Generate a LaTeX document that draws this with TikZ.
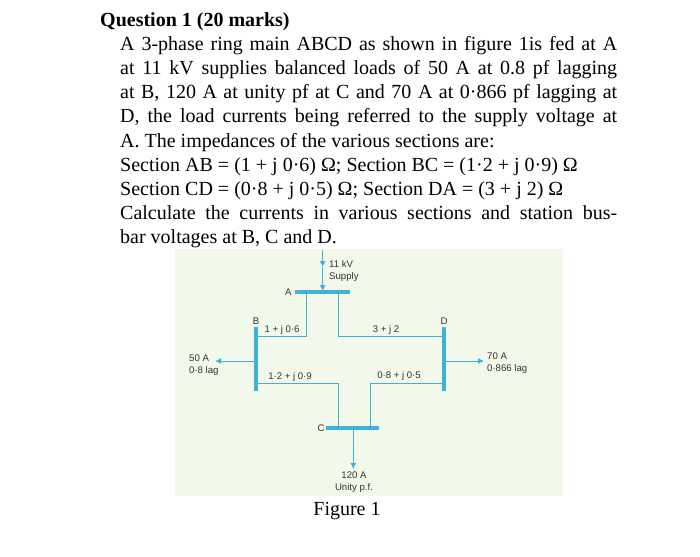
\documentclass[tikz,border=0pt]{standalone}
\usepackage{fontspec}
\setmainfont{Liberation Serif}
\newfontfamily\labelfont{Liberation Sans}
\usepackage{xcolor}
\usetikzlibrary{arrows.meta,positioning}
\definecolor{panelgreen}{HTML}{F2F8EA}
\definecolor{wireblue}{HTML}{3FB2DC}
\definecolor{labelgray}{HTML}{333333}
\tikzstyle{hbus}=[rectangle, fill=wireblue, inner sep=0pt, minimum height=3.2pt]
\tikzstyle{vbus}=[rectangle, fill=wireblue, inner sep=0pt, minimum width=3.2pt]
\tikzstyle{wire}=[draw=wireblue, line width=0.9pt]
\tikzstyle{feed}=[draw=wireblue, line width=0.9pt, -{Latex[length=6pt,width=6pt]}]
\tikzstyle{lbl}=[inner sep=0pt, text=labelgray, font=\labelfont\fontsize{9.6}{12}\selectfont, align=left]
\tikzstyle{prose}=[inner sep=0pt, font=\fontsize{20}{24.2}\selectfont]

\begin{document}
\begin{tikzpicture}[x=1pt, y=-1pt]
	\useasboundingbox (0,0) rectangle (700,556);
	\fill[white] (0,0) rectangle (700,556);

	\node[prose, anchor=base west] (title) at (100,27) {\bfseries Question 1 (20 marks)};
	\node[prose, anchor=north west, text width=497pt, align=justify] (question) at (120,36) {%
		A 3-phase ring main ABCD as shown in figure 1is fed at A\linebreak
		at 11 kV supplies balanced loads of 50 A at 0.8 pf lagging\linebreak
		at B, 120 A at unity pf at C and 70 A at 0·866 pf lagging at\linebreak
		D, the load currents being referred to the supply voltage at\linebreak
		A. The impedances of the various sections are:\newline
		Section AB = (1 + j 0·6) Ω; Section BC = (1·2 + j 0·9) Ω\newline
		Section CD = (0·8 + j 0·5) Ω; Section DA = (3 + j 2) Ω\newline
		Calculate the currents in various sections and station bus-\linebreak
		bar voltages at B, C and D.};

	\fill[panelgreen] (175,249) rectangle (563,496);

	% bus bars
	\node[hbus, minimum width=55pt] (busA) at (322.5,292) {};
	\node[vbus, minimum height=64pt] (busB) at (256,359) {};
	\node[vbus, minimum height=64pt] (busD) at (444,359) {};
	\node[hbus, minimum width=53pt] (busC) at (352.5,428) {};

	\node[lbl, left=3pt of busA] (nameA) {A};
	\node[lbl, above=2pt of busB] (nameB) {B};
	\node[lbl, above=2pt of busD] (nameD) {D};
	\node[lbl, left=1pt of busC] (nameC) {C};

	% tappings on the bars
	\coordinate (a1) at (306.7,292);
	\coordinate (a2) at (338,292);
	\coordinate (b1) at (256,336);
	\coordinate (b2) at (256,383);
	\coordinate (c1) at (338,428);
	\coordinate (c2) at (370,428);
	\coordinate (d1) at (444,336);
	\coordinate (d2) at (444,383);

	\draw[wire] (a1) |- (b1);
	\draw[wire] (a2) |- (d1);
	\draw[wire] (c1) |- (b2);
	\draw[wire] (c2) |- (d2);

	\node[lbl] (zab) at (282,330) {1 + j 0·6};
	\node[lbl] (zda) at (386,330) {3 + j 2};
	\node[lbl] (zbc) at (290,377) {1·2 + j 0·9};
	\node[lbl] (zcd) at (399,376.5) {0·8 + j 0·5};

	% supply and loads
	\coordinate (top) at (322.7,250);
	\coordinate (mid) at (322.7,267);
	\coordinate (feedA) at (322.7,291);
	\coordinate (tapB) at (256,361);
	\coordinate (tapD) at (444,361);
	\coordinate (tapC) at (353.3,428);
	\coordinate (endB) at (215,361);
	\coordinate (endD) at (484,361);
	\coordinate (endC) at (353.3,469);

	\path (top) edge [feed] (mid);
	\path (mid) edge [feed] (feedA);
	\path (tapB) edge [feed] (endB);
	\path (tapD) edge [feed] (endD);
	\path (tapC) edge [feed] (endC);

	\node[lbl, anchor=west] (supply) at (329,271) {11 kV\\Supply};
	\node[lbl, anchor=west] (loadB) at (189,365) {50 A\\0·8 lag};
	\node[lbl, anchor=west] (loadD) at (487,363.5) {70 A\\0·866 lag};
	\node[lbl, align=center] (loadC) at (354,482) {120 A\\Unity p.f.};

	\node[prose] (caption) at (347,511) {Figure 1};
\end{tikzpicture}
\end{document}
